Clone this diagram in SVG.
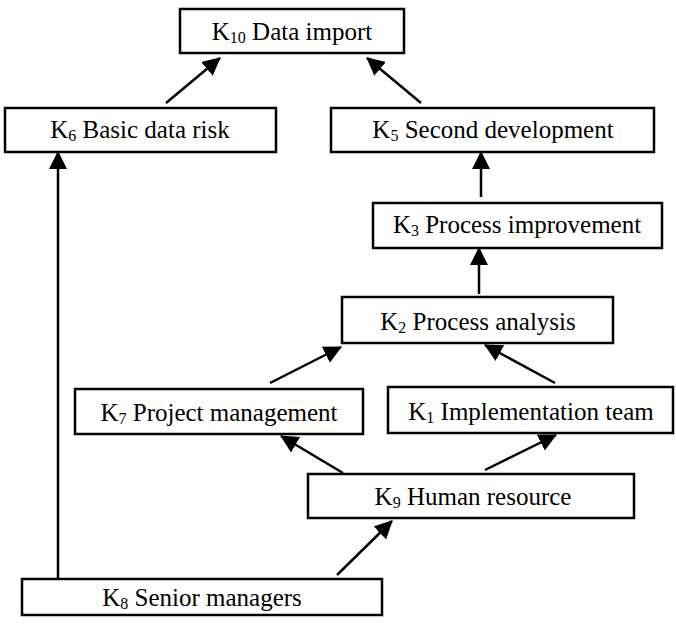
<svg xmlns="http://www.w3.org/2000/svg" width="676" height="625" viewBox="0 0 676 625">
<style>
.box{fill:#fff;stroke:#000;stroke-width:2.5}
.lbl{font-family:"Liberation Serif","Times New Roman",serif;font-size:25px;fill:#000;text-anchor:middle}
.sub{font-size:16px}
.edge{stroke:#000;stroke-width:2.5;fill:none;marker-end:url(#ah)}
</style>
<defs>
<marker id="ah" viewBox="0 0 18 18" refX="17" refY="9" markerWidth="18" markerHeight="18" markerUnits="userSpaceOnUse" orient="auto">
<path d="M0,0 L18,9 L0,18 z" fill="#000"/>
</marker>
</defs>
<rect width="676" height="625" fill="#fff"/>
<g id="connectors">
<line class="edge" x1="166" y1="103" x2="220" y2="58"/>
<line class="edge" x1="421" y1="103" x2="367" y2="58"/>
<line class="edge" x1="481" y1="197" x2="481" y2="152"/>
<line class="edge" x1="479" y1="294" x2="479" y2="248"/>
<line class="edge" x1="270" y1="383" x2="341" y2="347"/>
<line class="edge" x1="555" y1="383" x2="485" y2="345"/>
<line class="edge" x1="343" y1="473" x2="281" y2="436"/>
<line class="edge" x1="485" y1="470" x2="556" y2="435"/>
<line class="edge" x1="337" y1="575" x2="392" y2="521"/>
<line class="edge" x1="58" y1="579" x2="58" y2="152"/>
</g>
<g id="K10">
<rect class="box" x="180" y="9" width="224" height="44"/>
<text class="lbl" x="292" y="40">K<tspan class="sub" dy="3">10</tspan><tspan dy="-3"> Data import</tspan></text>
</g>
<g id="K6">
<rect class="box" x="5" y="108" width="271" height="44"/>
<text class="lbl" x="140" y="138">K<tspan class="sub" dy="3">6</tspan><tspan dy="-3"> Basic data risk</tspan></text>
</g>
<g id="K5">
<rect class="box" x="331" y="108" width="323" height="44"/>
<text class="lbl" x="493" y="138">K<tspan class="sub" dy="3">5</tspan><tspan dy="-3"> Second development</tspan></text>
</g>
<g id="K3">
<rect class="box" x="373" y="203" width="289" height="45"/>
<text class="lbl" x="517" y="233">K<tspan class="sub" dy="3">3</tspan><tspan dy="-3"> Process improvement</tspan></text>
</g>
<g id="K2">
<rect class="box" x="342" y="297" width="271" height="46"/>
<text class="lbl" x="478" y="330">K<tspan class="sub" dy="3">2</tspan><tspan dy="-3"> Process analysis</tspan></text>
</g>
<g id="K7">
<rect class="box" x="75" y="389" width="288" height="45"/>
<text class="lbl" x="219" y="421">K<tspan class="sub" dy="3">7</tspan><tspan dy="-3"> Project management</tspan></text>
</g>
<g id="K1">
<rect class="box" x="388" y="387" width="285" height="46"/>
<text class="lbl" x="531" y="420">K<tspan class="sub" dy="3">1</tspan><tspan dy="-3"> Implementation team</tspan></text>
</g>
<g id="K9">
<rect class="box" x="308" y="474" width="326" height="44"/>
<text class="lbl" x="473" y="505">K<tspan class="sub" dy="3">9</tspan><tspan dy="-3"> Human resource</tspan></text>
</g>
<g id="K8">
<rect class="box" x="22" y="579" width="360" height="36"/>
<text class="lbl" x="202" y="606">K<tspan class="sub" dy="3">8</tspan><tspan dy="-3"> Senior managers</tspan></text>
</g>
</svg>
